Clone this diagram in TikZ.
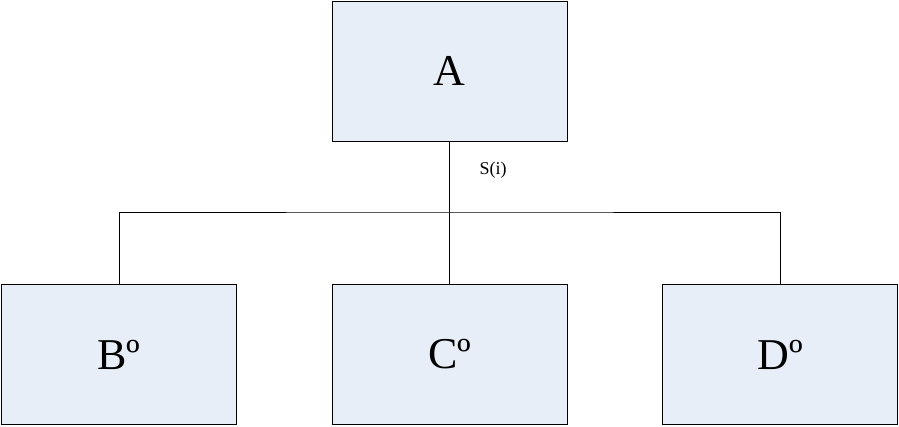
\documentclass[tikz,border=0pt]{standalone}
\usepackage{fontspec}
\setmainfont{Liberation Serif}
\begin{document}
\begin{tikzpicture}[x=1pt,y=-1pt,
  box/.style={draw=black,fill=blue!30!cyan!10!white,fill={rgb,255:red,232;green,238;blue,247},minimum width=235pt,minimum height=140pt,font=\fontsize{44}{48}\selectfont,line width=0.8pt},
  conn/.style={draw=black,line width=0.8pt}]
\useasboundingbox (0,0) rectangle (899,426);
\node[box] (A) at (449.5,71) {A};
\node[box] (B) at (119,354.5) {Bº};
\node[box] (C) at (449.5,354.5) {Cº};
\node[box] (D) at (780,354.5) {Dº};
\coordinate (J) at (449.5,212);
\draw[conn] (A.south) -- (C.north);
\draw[conn] (B.north) |- (J) -| (D.north);
\node[font=\fontsize{18}{20}\selectfont] (S) at (493,170) {S(i)};
\end{tikzpicture}
\end{document}
